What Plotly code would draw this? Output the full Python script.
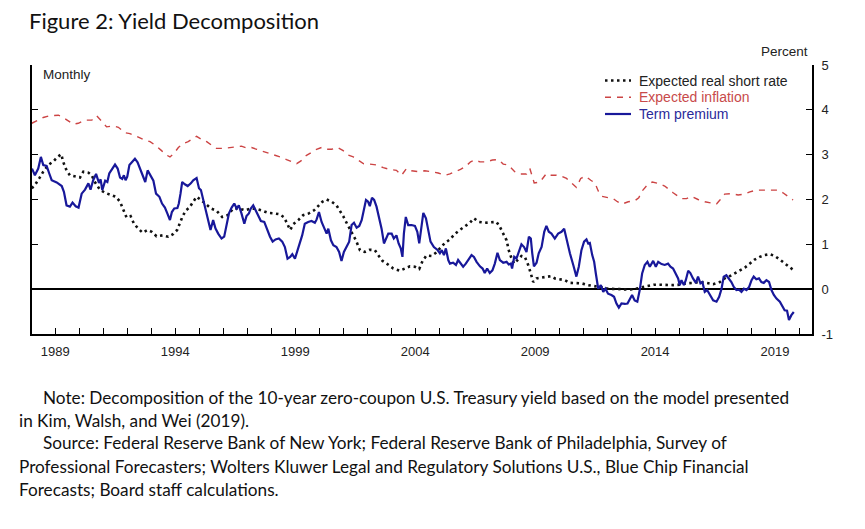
import plotly.graph_objects as go

# ---------------- data (decimal years, percent) ----------------
tp_year = [1988.03,1988.15,1988.29,1988.40,1988.50,1988.64,1988.75,1988.85,1989.06,1989.27,1989.36,1989.47,1989.61,1989.72,1989.85,1989.97,
1990.10,1990.24,1990.38,1990.47,1990.58,1990.70,1990.82,1990.89,1990.96,1991.08,1991.17,1991.25,1991.38,1991.49,1991.60,1991.70,1991.79,1991.86,1991.93,
1992.00,1992.09,1992.20,1992.32,1992.43,1992.56,1992.67,1992.75,1992.85,1992.97,1993.09,1993.20,1993.34,1993.45,1993.57,1993.67,1993.78,1993.86,1993.96,
1994.09,1994.15,1994.22,1994.29,1994.40,1994.52,1994.65,1994.75,1994.89,1994.99,1995.07,1995.17,1995.28,1995.38,1995.47,1995.58,1995.68,1995.79,1995.93,
1996.04,1996.14,1996.24,1996.35,1996.46,1996.56,1996.65,1996.76,1996.88,1996.97,1997.07,1997.15,1997.25,1997.35,1997.46,1997.57,1997.71,1997.83,1997.95,
1998.06,1998.18,1998.32,1998.46,1998.57,1998.68,1998.79,1998.88,1998.99,1999.10,1999.20,1999.29,1999.40,1999.54,1999.68,1999.82,1999.89,1999.99,
2000.10,2000.21,2000.31,2000.38,2000.49,2000.59,2000.72,2000.83,2000.93,2001.03,2001.14,2001.25,2001.35,2001.45,2001.56,2001.67,2001.77,2001.86,2001.95,
2002.04,2002.11,2002.20,2002.29,2002.39,2002.49,2002.60,2002.70,2002.78,2002.88,2003.02,2003.11,2003.22,2003.31,2003.40,2003.47,2003.53,2003.61,2003.71,
2003.85,2003.99,2004.09,2004.17,2004.27,2004.34,2004.45,2004.54,2004.64,2004.78,2004.92,2005.03,2005.11,2005.20,2005.28,2005.38,2005.45,2005.58,2005.70,
2005.79,2005.89,2006.00,2006.11,2006.25,2006.35,2006.45,2006.56,2006.70,2006.81,2006.90,2007.00,2007.11,2007.22,2007.32,2007.43,2007.53,2007.67,2007.81,
2007.90,2007.99,2008.04,2008.13,2008.22,2008.32,2008.43,2008.54,2008.64,2008.74,2008.82,2008.88,2008.95,2009.06,2009.15,2009.27,2009.38,2009.47,2009.57,
2009.68,2009.82,2009.96,2010.10,2010.21,2010.31,2010.45,2010.59,2010.72,2010.82,2010.93,2011.04,2011.14,2011.21,2011.28,2011.38,2011.46,2011.53,2011.63,
2011.74,2011.84,2011.93,2012.04,2012.18,2012.29,2012.39,2012.49,2012.60,2012.74,2012.85,2012.95,2013.04,2013.15,2013.26,2013.36,2013.46,2013.57,2013.68,
2013.78,2013.92,2014.03,2014.13,2014.27,2014.40,2014.54,2014.64,2014.75,2014.86,2014.96,2015.03,2015.10,2015.20,2015.28,2015.38,2015.47,2015.58,2015.70,
2015.79,2015.89,2015.97,2016.07,2016.17,2016.28,2016.42,2016.56,2016.67,2016.77,2016.86,2016.97,2017.08,2017.18,2017.28,2017.39,2017.50,2017.60,2017.70,
2017.81,2017.92,2018.02,2018.11,2018.22,2018.33,2018.43,2018.53,2018.64,2018.75,2018.85,2018.95,2019.06,2019.20,2019.31,2019.40,2019.50,2019.58,2019.68,
2019.78]
tp_val = [2.69,2.54,2.69,2.95,2.77,2.75,2.58,2.43,2.38,2.30,2.17,1.87,1.84,1.93,1.85,1.82,
2.13,2.22,2.36,2.22,2.43,2.57,2.37,2.45,2.21,2.42,2.39,2.58,2.69,2.78,2.69,2.49,2.46,2.54,2.43,
2.51,2.77,2.84,2.91,2.83,2.64,2.47,2.39,2.65,2.52,2.42,2.13,2.06,1.91,1.82,1.69,1.54,1.72,1.80,
1.81,1.91,2.13,2.39,2.34,2.30,2.36,2.43,2.48,2.25,2.21,1.99,1.76,1.58,1.32,1.54,1.35,1.24,1.13,
1.17,1.43,1.69,1.82,1.91,1.80,1.87,1.69,1.46,1.63,1.69,1.80,1.87,1.76,1.65,1.52,1.50,1.32,1.17,
1.06,1.11,1.13,1.06,0.94,0.68,0.72,0.78,0.68,0.87,1.09,1.20,1.46,1.50,1.52,1.48,1.55,1.72,
1.50,1.35,1.24,1.35,1.09,0.98,0.94,0.83,0.63,0.83,0.94,1.06,1.43,1.48,1.37,1.41,1.54,1.76,1.99,
1.95,1.85,2.04,1.99,1.84,1.61,1.35,1.02,1.11,1.24,1.24,1.13,1.20,1.02,0.91,0.72,1.24,1.61,1.43,
1.43,1.41,1.28,1.02,1.41,1.70,1.58,1.32,1.06,0.94,0.88,0.80,0.87,0.76,0.91,0.65,0.57,0.59,0.54,
0.65,0.57,0.50,0.57,0.68,0.76,0.72,0.61,0.51,0.46,0.36,0.46,0.36,0.42,0.57,0.81,0.65,0.59,0.61,
0.55,0.57,0.46,0.72,0.68,0.83,1.00,0.94,0.83,1.17,1.13,0.80,0.51,0.59,0.80,0.94,1.28,1.41,1.28,
1.24,1.13,1.24,1.28,1.35,1.09,0.80,0.54,0.28,0.50,0.87,1.06,1.11,1.02,1.03,0.76,0.61,0.35,0.01,
0.09,-0.06,0.01,-0.10,-0.13,-0.17,-0.32,-0.41,-0.32,-0.33,-0.32,-0.21,-0.13,-0.25,-0.28,-0.02,0.35,0.54,0.61,
0.50,0.63,0.50,0.61,0.56,0.54,0.57,0.50,0.46,0.35,0.24,0.09,0.20,0.09,0.20,0.41,0.36,0.24,0.14,
0.28,0.13,0.16,-0.06,-0.02,-0.13,-0.25,-0.28,-0.17,0.01,0.28,0.31,0.24,0.16,0.05,-0.02,-0.01,-0.06,0.01,
-0.02,0.05,0.20,0.28,0.22,0.24,0.16,0.14,0.20,0.16,-0.02,-0.13,-0.21,-0.28,-0.39,-0.47,-0.48,-0.69,-0.58,
-0.51]

rsr_year = [1988.02,1988.15,1988.33,1988.50,1988.71,1988.92,1989.10,1989.25,1989.33,1989.47,1989.61,1989.82,1990.03,1990.17,1990.38,1990.52,1990.65,1990.86,
1991.07,1991.28,1991.53,1991.70,1991.84,1991.97,1992.14,1992.28,1992.46,1992.64,1992.85,1993.02,1993.22,1993.47,1993.71,1993.92,1994.08,1994.20,1994.31,
1994.45,1994.59,1994.75,1994.89,1995.07,1995.27,1995.49,1995.72,1995.96,1996.18,1996.42,1996.65,1996.90,1997.15,1997.39,1997.63,1997.88,1998.13,1998.36,
1998.54,1998.68,1998.79,1998.92,1999.13,1999.33,1999.57,1999.79,1999.96,2000.13,2000.31,2000.52,2000.72,2000.86,2001.00,2001.17,2001.35,2001.53,2001.70,
2001.90,2002.11,2002.32,2002.46,2002.64,2002.84,2003.09,2003.36,2003.57,2003.78,2003.99,2004.17,2004.31,2004.47,2004.68,2004.86,2005.03,2005.24,2005.45,
2005.65,2005.86,2006.07,2006.28,2006.45,2006.67,2006.90,2007.18,2007.39,2007.53,2007.67,2007.81,2007.90,2008.02,2008.13,2008.27,2008.43,2008.57,2008.71,
2008.82,2008.92,2009.06,2009.27,2009.47,2009.65,2009.82,2010.03,2010.24,2010.45,2010.65,2010.93,2011.21,2011.49,2011.77,2012.04,2012.32,2012.60,2012.88,
2013.15,2013.43,2013.71,2013.96,2014.20,2014.47,2014.75,2015.03,2015.31,2015.58,2015.86,2016.14,2016.42,2016.70,2016.90,2017.11,2017.32,2017.53,2017.74,
2017.95,2018.15,2018.36,2018.57,2018.78,2018.99,2019.20,2019.40,2019.61,2019.78]
rsr_val = [2.25,2.32,2.47,2.62,2.77,2.85,2.95,3.01,2.84,2.65,2.54,2.52,2.49,2.62,2.60,2.54,2.39,2.22,
2.15,2.11,2.06,1.95,1.76,1.60,1.63,1.46,1.35,1.26,1.32,1.28,1.18,1.20,1.17,1.23,1.32,1.48,1.63,
1.76,1.82,1.95,2.06,1.99,1.90,1.80,1.75,1.61,1.65,1.80,1.80,1.76,1.80,1.79,1.75,1.70,1.69,1.67,
1.60,1.46,1.32,1.45,1.54,1.65,1.69,1.76,1.85,1.95,2.00,1.95,1.87,1.75,1.63,1.45,1.28,1.09,0.87,
0.83,0.88,0.87,0.76,0.63,0.56,0.46,0.41,0.46,0.51,0.50,0.45,0.63,0.75,0.74,0.81,0.91,1.03,1.11,
1.23,1.32,1.41,1.48,1.58,1.50,1.48,1.49,1.50,1.39,1.24,1.09,0.87,0.68,0.57,0.66,0.74,0.72,0.54,
0.35,0.16,0.24,0.26,0.28,0.29,0.24,0.22,0.20,0.14,0.14,0.13,0.09,0.07,0.04,0.01,0.01,0.00,-0.01,
0.00,0.04,0.08,0.10,0.10,0.09,0.09,0.10,0.13,0.14,0.16,0.14,0.11,0.16,0.24,0.29,0.35,0.41,0.48,
0.57,0.66,0.72,0.76,0.78,0.74,0.66,0.57,0.48,0.42]

inf_year = [1988.02,1988.22,1988.50,1988.78,1989.13,1989.33,1989.54,1989.75,1989.96,1990.24,1990.52,1990.72,1990.93,1991.14,1991.42,1991.63,1991.90,
1992.11,1992.39,1992.67,1992.95,1993.22,1993.43,1993.64,1993.78,1993.95,1994.13,1994.34,1994.54,1994.65,1994.89,1995.10,1995.31,1995.52,1995.72,
1996.00,1996.28,1996.56,1996.76,1996.97,1997.18,1997.39,1997.63,1997.88,1998.15,1998.43,1998.64,1998.85,1999.06,1999.24,1999.43,1999.65,1999.89,
2000.10,2000.31,2000.52,2000.76,2001.00,2001.21,2001.42,2001.63,2001.84,2002.11,2002.39,2002.67,2002.95,2003.22,2003.43,2003.64,2003.85,2004.13,
2004.40,2004.68,2004.96,2005.24,2005.45,2005.65,2005.89,2006.11,2006.31,2006.49,2006.70,2006.97,2007.22,2007.46,2007.67,2007.88,2008.15,2008.36,
2008.64,2008.78,2008.88,2008.96,2009.20,2009.47,2009.68,2009.89,2010.10,2010.31,2010.54,2010.72,2010.90,2011.10,2011.32,2011.49,2011.63,2011.79,
2012.04,2012.25,2012.43,2012.63,2012.88,2013.15,2013.32,2013.46,2013.64,2013.88,2014.13,2014.40,2014.75,2015.10,2015.31,2015.52,2015.79,2016.07,
2016.35,2016.56,2016.72,2016.90,2017.18,2017.46,2017.74,2017.95,2018.22,2018.50,2018.78,2019.13,2019.33,2019.54,2019.75]
inf_val = [3.70,3.75,3.83,3.87,3.88,3.83,3.75,3.68,3.70,3.77,3.77,3.87,3.75,3.62,3.64,3.61,3.49,
3.47,3.41,3.34,3.29,3.19,3.09,2.99,2.95,3.03,3.16,3.25,3.29,3.33,3.41,3.34,3.29,3.21,3.14,
3.14,3.16,3.17,3.19,3.15,3.16,3.12,3.08,3.03,2.99,2.94,2.89,2.84,2.80,2.86,2.97,3.04,3.12,
3.16,3.12,3.12,3.16,3.09,2.99,2.95,2.88,2.80,2.79,2.77,2.71,2.67,2.65,2.54,2.69,2.64,2.62,
2.64,2.62,2.59,2.54,2.57,2.62,2.67,2.74,2.84,2.88,2.84,2.84,2.88,2.89,2.79,2.77,2.62,2.57,
2.57,2.69,2.51,2.37,2.39,2.58,2.54,2.54,2.52,2.47,2.36,2.27,2.47,2.52,2.43,2.37,2.19,2.07,
2.04,2.02,1.95,1.90,1.95,1.97,2.04,2.19,2.30,2.39,2.36,2.30,2.15,2.02,2.02,2.07,2.00,1.95,
1.92,1.90,2.00,2.12,2.13,2.10,2.12,2.17,2.21,2.21,2.22,2.21,2.15,2.06,1.99]

series_names = ["Expected real short rate", "Expected inflation", "Term premium"]
x_tick_years = [1989, 1994, 1999, 2004, 2009, 2014, 2019]
x_minor_years = list(range(1989, 2021))
y_ticks = [-1, 0, 1, 2, 3, 4, 5]
y_ticktext = ["-1", "0", "1", "2", "3", "4", "5"]

title_text = "Figure 2: Yield Decomposition"
note_lines = [
    ("Note: Decomposition of the 10-year zero-coupon U.S. Treasury yield based on the model presented", True),
    ("in Kim, Walsh, and Wei (2019).", False),
    ("Source: Federal Reserve Bank of New York; Federal Reserve Bank of Philadelphia, Survey of", True),
    ("Professional Forecasters; Wolters Kluwer Legal and Regulatory Solutions U.S., Blue Chip Financial", False),
    ("Forecasts; Board staff calculations.", False),
]

# ---------------- styles ----------------
styles = [
    dict(line=dict(color="#111111", width=2.6, dash="2.5px,3.5px"), text="#222222"),
    dict(line=dict(color="#cc4444", width=1.4, dash="6px,6px"), text="#c84a4a"),
    dict(line=dict(color="#18189a", width=2.2), text="#2a2a9a"),
]

W, H = 865, 529
L, R, T, B = 32, 53, 65, 195
PW, PH = W - L - R, H - T - B


def pxx(x):
    return (x - L) / PW


def pxy(y):
    return (H - B - y) / PH


CHART_FONT = "Liberation Sans, Arial, sans-serif"
DOC_FONT = "Lato, Open Sans, sans-serif"

fig = go.Figure()
for (xs, ys), name, st in zip([(rsr_year, rsr_val), (inf_year, inf_val), (tp_year, tp_val)],
                              series_names, styles):
    fig.add_trace(go.Scatter(x=xs, y=ys, mode="lines", name=name, line=st["line"],
                             showlegend=False))

fig.update_layout(
    width=W, height=H,
    margin=dict(l=L, r=R, t=T, b=B, pad=0),
    paper_bgcolor="white", plot_bgcolor="white",
    font=dict(family=CHART_FONT, size=13.5, color="#222222"),
    showlegend=False,
    xaxis=dict(range=[1988.03, 2020.54], showgrid=False, zeroline=False,
               showline=True, linecolor="black", linewidth=1.6,
               tickmode="array", tickvals=x_tick_years,
               ticktext=[str(v) for v in x_tick_years],
               ticks="inside", ticklen=6, tickwidth=1.3, tickcolor="black",
               ticklabelstandoff=5,
               minor=dict(tickmode="array", tickvals=x_minor_years, ticks="inside",
                          ticklen=6, tickwidth=1.3, tickcolor="black", showgrid=False),
               tickfont=dict(family=CHART_FONT, size=13, color="#222222"),
               fixedrange=True),
    yaxis=dict(range=[-1, 5], side="right", showgrid=False,
               zeroline=True, zerolinecolor="black", zerolinewidth=1.6,
               showline=True, linecolor="black", linewidth=1.6, mirror="ticks",
               tickmode="array", tickvals=y_ticks, ticktext=y_ticktext,
               ticks="inside", ticklen=6, tickwidth=1.3, tickcolor="black",
               ticklabelstandoff=5,
               tickfont=dict(family=CHART_FONT, size=13, color="#222222"),
               fixedrange=True),
)

ann = []
shapes = []
# legend (manual, to match compact spacing)
leg_y = [80.5, 97.3, 114]
for name, st, yy in zip(series_names, styles, leg_y):
    shapes.append(dict(type="line", xref="paper", yref="paper",
                       x0=pxx(605), x1=pxx(631), y0=pxy(yy), y1=pxy(yy),
                       line=st["line"]))
    ann.append(dict(text=name, xref="paper", yref="paper", x=pxx(637), y=pxy(yy),
                    xanchor="left", yanchor="middle", showarrow=False,
                    font=dict(family=CHART_FONT, size=14, color=st["text"])))

ann.append(dict(text=title_text, xref="paper", yref="paper", x=pxx(27), y=pxy(21),
                xanchor="left", yanchor="middle", showarrow=False,
                font=dict(family=DOC_FONT, size=22, color="#111111")))
ann.append(dict(text="Percent", xref="paper", yref="paper", x=pxx(810), y=pxy(51),
                xanchor="right", yanchor="middle", showarrow=False,
                font=dict(family=CHART_FONT, size=13.5, color="#222222")))
ann.append(dict(text="Monthly", xref="paper", yref="paper", x=pxx(41), y=pxy(74),
                xanchor="left", yanchor="middle", showarrow=False,
                font=dict(family=CHART_FONT, size=13.5, color="#222222")))
line_y = [397, 420, 443, 466, 489]
for (txt, indent), yy in zip(note_lines, line_y):
    ann.append(dict(text=txt, xref="paper", yref="paper",
                    x=pxx(41 if indent else 17), y=pxy(yy),
                    xanchor="left", yanchor="middle", showarrow=False,
                    font=dict(family=DOC_FONT, size=17.2, color="#111111")))
fig.update_layout(annotations=ann, shapes=shapes)

fig.write_html("out.html", config={"displayModeBar": False})
